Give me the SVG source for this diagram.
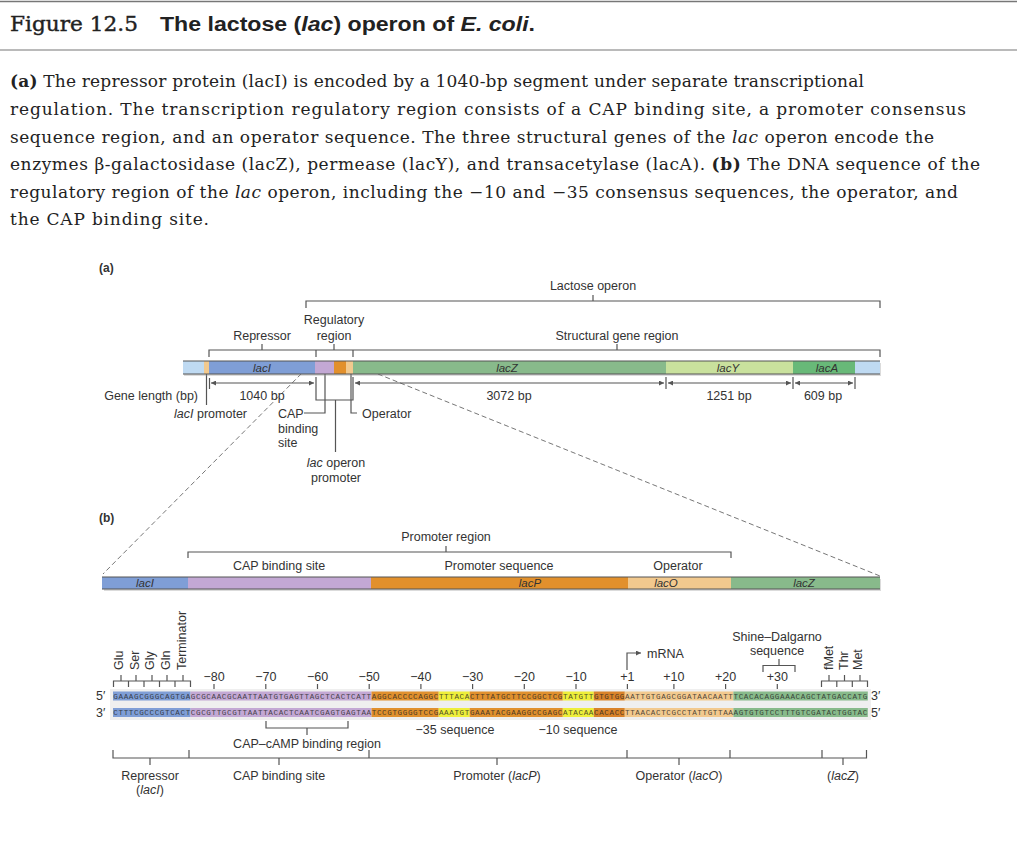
<svg xmlns="http://www.w3.org/2000/svg" width="1024" height="842" viewBox="0 0 1024 842">
<defs>
<style>
.lbl{font-family:"Liberation Sans",Arial,sans-serif;font-size:12.5px;fill:#333}
.gn{font-family:"Liberation Sans",Arial,sans-serif;font-size:11.5px;font-style:italic;fill:#333}
.it{font-style:italic}
.ln{stroke:#555;stroke-width:1.2;fill:none}
.dash{stroke:#777;stroke-width:1;stroke-dasharray:5 3;fill:none}
.seq{font-family:"Liberation Mono",monospace;font-size:7.6px;fill:#222;fill-opacity:.8}
.cap{font-family:"DejaVu Serif",serif;font-size:17px;fill:#222}
.num{font-family:"Liberation Sans",Arial,sans-serif;font-size:12.5px;fill:#333;text-anchor:middle}
.mid{text-anchor:middle}
.end{text-anchor:end}
.barline{stroke:#555;stroke-width:1}
</style>
<marker id="ah" viewBox="0 0 6 6" refX="6" refY="3" markerWidth="5" markerHeight="5" orient="auto-start-reverse" markerUnits="userSpaceOnUse">
<path d="M0,0 L6,3 L0,6 z" fill="#555"/>
</marker>
</defs>
<rect width="1024" height="842" fill="#fff"/>

<g id="header">
<line x1="0" y1="1.5" x2="1017" y2="1.5" stroke="#777" stroke-width="1.5"/>
<line x1="0" y1="50" x2="1017" y2="50" stroke="#777" stroke-width="1.2"/>
<text x="10" y="31" font-family="DejaVu Serif,serif" font-size="21" fill="#222" stroke="#222" stroke-width="0.4" textLength="128" lengthAdjust="spacingAndGlyphs">Figure 12.5</text>
<text x="160" y="31" font-family="Liberation Sans,Arial,sans-serif" font-size="19.5" font-weight="bold" fill="#222" textLength="375" lengthAdjust="spacingAndGlyphs">The lactose (<tspan font-style="italic">lac</tspan>) operon of <tspan font-style="italic">E. coli</tspan>.</text>
</g>

<g id="caption" class="cap">
<text x="10" y="87" textLength="854"><tspan font-weight="bold">(a)</tspan> The repressor protein (lacI) is encoded by a 1040-bp segment under separate transcriptional</text>
<text x="10" y="115" textLength="956">regulation. The transcription regulatory region consists of a CAP binding site, a promoter consensus</text>
<text x="10" y="142.5" textLength="924">sequence region, and an operator sequence. The three structural genes of the <tspan font-style="italic">lac</tspan> operon encode the</text>
<text x="10" y="170" textLength="970">enzymes β-galactosidase (lacZ), permease (lacY), and transacetylase (lacA). <tspan font-weight="bold">(b)</tspan> The DNA sequence of the</text>
<text x="10" y="197.5" textLength="948">regulatory region of the <tspan font-style="italic">lac</tspan> operon, including the −10 and −35 consensus sequences, the operator, and</text>
<text x="10" y="225" textLength="199">the CAP binding site.</text>
</g>

<g id="panel-labels" font-family="Liberation Sans,Arial,sans-serif" font-size="12" font-weight="bold" fill="#333">
<text x="99" y="272">(a)</text>
<text x="99" y="522">(b)</text>
</g>

<g id="connectors">
<line class="dash" x1="307" y1="368" x2="103" y2="574"/>
<line class="dash" x1="363" y1="368" x2="880" y2="576"/>
<path class="ln" d="M306,308 V301 H880 V308 M593,301 V295"/>
<path class="ln" d="M209,357 V350 H880 V357 M316,350 V357 M353,350 V357 M262,350 V344 M334,350 V344 M617,350 V344"/>
<line class="ln" x1="211" y1="383" x2="314" y2="383" marker-start="url(#ah)" marker-end="url(#ah)"/>
<line class="ln" x1="355" y1="383" x2="664" y2="383" marker-start="url(#ah)" marker-end="url(#ah)"/>
<line class="ln" x1="668" y1="383" x2="791" y2="383" marker-start="url(#ah)" marker-end="url(#ah)"/>
<line class="ln" x1="795" y1="383" x2="853" y2="383" marker-start="url(#ah)" marker-end="url(#ah)"/>
<path class="ln" d="M209.5,378 V389 M666,377 V389 M793,377 V389 M855,377 V389"/>
<path class="ln" d="M206.5,374 V405"/>
<path class="ln" d="M325,374 V413 H304"/>
<path class="ln" d="M351,374 V413 H357"/>
<path class="ln" d="M316,377 V400 H353 V377 M335.5,400 V452"/>
<path class="ln" d="M188,558 V552 H731 V558 M446,552 V546"/>
<path class="ln" d="M113.5,687 V681 H128.5 V687 M128.5,681 H144 V687 M144,681 H159.5 V687 M159.5,681 H175 V687 M175,681 H190.5 V687 M121,681 V675 M136,681 V675 M152,681 V675 M167,681 V675 M183,681 V675"/>
<path class="ln" d="M821.5,687 V681 H836.8 V687 M836.8,681 H852.3 V687 M852.3,681 H867.5 V687 M829,681 V675 M844.5,681 V675 M860,681 V675"/>
<path class="ln" d="M763,672 V665.5 H795 V672 M779,665.5 V659"/>
<path class="ln" d="M627,670 V653 H641" marker-end="url(#ah)"/>
<path class="ln" d="M214,684 V690 M265.8,684 V690 M317.5,684 V690 M369.2,684 V690 M420.9,684 V690 M472.6,684 V690 M524.3,684 V690 M576,684 V690 M627.4,684 V690 M673.9,684 V690 M725.6,684 V690 M777.3,684 V690"/>
<path class="ln" d="M266,721 V728 H348 V721 M307,728 V735"/>
<path class="ln" d="M113,750 V758 H866.5 V750 M189,758 V750 M369,758 V750 M627,758 V750 M730,758 V750 M822,758 V750 M150,758 V765 M279,758 V765 M497,758 V765 M679,758 V765 M843,758 V765"/>
</g>

<g id="bar-a">
<rect x="184" y="363" width="697" height="13" fill="#999" opacity=".35"/>
<rect x="183" y="361" width="21" height="13" fill="#bfdaf2"/>
<rect x="204" y="361" width="5" height="13" fill="#f2c98e"/>
<rect x="209" y="361" width="106" height="13" fill="#7f9ed6"/>
<rect x="315" y="361" width="19" height="13" fill="#c3a8d4"/>
<rect x="334" y="361" width="12" height="13" fill="#e2902c"/>
<rect x="346" y="361" width="7" height="13" fill="#f2c98e"/>
<rect x="353" y="361" width="313" height="13" fill="#88ba8b"/>
<rect x="666" y="361" width="127" height="13" fill="#c9e19d"/>
<rect x="793" y="361" width="62" height="13" fill="#68b978"/>
<rect x="855" y="361" width="25" height="13" fill="#bfdaf2"/>
<line class="barline" x1="183" y1="361" x2="880" y2="361"/>
<line class="barline" x1="183" y1="374" x2="880" y2="374"/>
<text class="gn mid" x="262" y="371.5">lacI</text>
<text class="gn mid" x="507" y="371.5">lacZ</text>
<text class="gn mid" x="728" y="371.5">lacY</text>
<text class="gn mid" x="827" y="371.5">lacA</text>
</g>

<g id="labels-a" class="lbl">
<text class="mid" x="593" y="290">Lactose operon</text>
<text class="mid" x="334" y="324">Regulatory</text>
<text class="mid" x="334" y="340">region</text>
<text class="mid" x="262" y="340">Repressor</text>
<text class="mid" x="617" y="340">Structural gene region</text>
<text class="end" x="198" y="400">Gene length (bp)</text>
<text class="mid" x="262" y="400">1040 bp</text>
<text class="mid" x="509" y="400">3072 bp</text>
<text class="mid" x="729" y="400">1251 bp</text>
<text class="mid" x="823" y="400">609 bp</text>
<text class="end" x="247" y="418"><tspan class="it">lacI</tspan> promoter</text>
<text x="278" y="418">CAP</text>
<text x="278" y="432.5">binding</text>
<text x="278" y="447">site</text>
<text x="362" y="418">Operator</text>
<text class="mid" x="336" y="467"><tspan class="it">lac</tspan> operon</text>
<text class="mid" x="336" y="482">promoter</text>
</g>

<g id="bar-b">
<rect x="104" y="579" width="777" height="12" fill="#999" opacity=".35"/>
<rect x="102" y="577" width="86" height="12" fill="#7f9ed6"/>
<rect x="188" y="577" width="183" height="12" fill="#c3a8d4"/>
<rect x="371" y="577" width="257" height="12" fill="#e2902c"/>
<rect x="628" y="577" width="103" height="12" fill="#f2c98e"/>
<rect x="731" y="577" width="149" height="12" fill="#88ba8b"/>
<line class="barline" x1="102" y1="577" x2="880" y2="577"/>
<line class="barline" x1="102" y1="589" x2="880" y2="589"/>
<text class="gn mid" x="145" y="587">lacI</text>
<text class="gn mid" x="530" y="587">lacP</text>
<text class="gn mid" x="666" y="587">lacO</text>
<text class="gn mid" x="804" y="587">lacZ</text>
</g>

<g id="labels-b" class="lbl">
<text class="mid" x="446" y="541">Promoter region</text>
<text class="mid" x="279" y="570">CAP binding site</text>
<text class="mid" x="499" y="570">Promoter sequence</text>
<text class="mid" x="678" y="570">Operator</text>
<text transform="translate(123,670) rotate(-90)">Glu</text>
<text transform="translate(139,670) rotate(-90)">Ser</text>
<text transform="translate(154,670) rotate(-90)">Gly</text>
<text transform="translate(170,670) rotate(-90)">Gln</text>
<text transform="translate(186,670) rotate(-90)">Terminator</text>
<text transform="translate(833,670) rotate(-90)">fMet</text>
<text transform="translate(848,670) rotate(-90)">Thr</text>
<text transform="translate(862,670) rotate(-90)">Met</text>
<text class="mid" x="777" y="641">Shine–Dalgarno</text>
<text class="mid" x="777" y="655">sequence</text>
<text x="647" y="658">mRNA</text>
</g>

<g id="numbers" class="num">
<text x="214" y="681">−80</text>
<text x="265.8" y="681">−70</text>
<text x="317.5" y="681">−60</text>
<text x="369.2" y="681">−50</text>
<text x="420.9" y="681">−40</text>
<text x="472.6" y="681">−30</text>
<text x="524.3" y="681">−20</text>
<text x="576" y="681">−10</text>
<text x="627.4" y="681">+1</text>
<text x="673.9" y="681">+10</text>
<text x="725.6" y="681">+20</text>
<text x="777.3" y="681">+30</text>
</g>

<g id="sequence">
<rect x="110" y="689" width="761" height="31" fill="#efefef"/>
<g id="top-strand">
<rect x="113" y="691.5" width="77.6" height="9" fill="#7f9ed6"/>
<rect x="190.6" y="691.5" width="180.9" height="9" fill="#c3a8d4"/>
<rect x="371.5" y="691.5" width="67.2" height="9" fill="#e0902e"/>
<rect x="438.7" y="691.5" width="31" height="9" fill="#eeee3a"/>
<rect x="469.7" y="691.5" width="93.1" height="9" fill="#e0902e"/>
<rect x="562.8" y="691.5" width="31" height="9" fill="#eeee3a"/>
<rect x="593.8" y="691.5" width="31" height="9" fill="#d9832a"/>
<rect x="624.8" y="691.5" width="108.6" height="9" fill="#f2c98e"/>
<rect x="733.4" y="691.5" width="134.4" height="9" fill="#88ba8b"/>
<text class="seq" x="113.3" y="698.6" textLength="754" lengthAdjust="spacing">GAAAGCGGGCAGTGAGCGCAACGCAATTAATGTGAGTTAGCTCACTCATTAGGCACCCCAGGCTTTACACTTTATGCTTCCGGCTCGTATGTTGTGTGGAATTGTGAGCGGATAACAATTTCACACAGGAAACAGCTATGACCATG</text>
</g>
<g id="bottom-strand">
<rect x="113" y="708" width="77.6" height="9" fill="#7f9ed6"/>
<rect x="190.6" y="708" width="180.9" height="9" fill="#c3a8d4"/>
<rect x="371.5" y="708" width="67.2" height="9" fill="#e0902e"/>
<rect x="438.7" y="708" width="31" height="9" fill="#eeee3a"/>
<rect x="469.7" y="708" width="93.1" height="9" fill="#e0902e"/>
<rect x="562.8" y="708" width="31" height="9" fill="#eeee3a"/>
<rect x="593.8" y="708" width="31" height="9" fill="#d9832a"/>
<rect x="624.8" y="708" width="108.6" height="9" fill="#f2c98e"/>
<rect x="733.4" y="708" width="134.4" height="9" fill="#88ba8b"/>
<text class="seq" x="113.3" y="715.1" textLength="754" lengthAdjust="spacing">CTTTCGCCCGTCACTCGCGTTGCGTTAATTACACTCAATCGAGTGAGTAATCCGTGGGGTCCGAAATGTGAAATACGAAGGCCGAGCATACAACACACCTTAACACTCGCCTATTGTTAAAGTGTGTCCTTTGTCGATACTGGTAC</text>
</g>
<g class="lbl">
<text x="96" y="700">5′</text>
<text x="96" y="716.5">3′</text>
<text x="871" y="700">3′</text>
<text x="871" y="716.5">5′</text>
</g>
</g>

<g id="labels-bottom" class="lbl">
<text class="mid" x="455" y="734">−35 sequence</text>
<text class="mid" x="578" y="734">−10 sequence</text>
<text class="mid" x="307" y="748">CAP–cAMP binding region</text>
<text class="mid" x="150" y="780">Repressor</text>
<text class="mid" x="150" y="794">(<tspan class="it">lacI</tspan>)</text>
<text class="mid" x="279" y="780">CAP binding site</text>
<text class="mid" x="497" y="780">Promoter (<tspan class="it">lacP</tspan>)</text>
<text class="mid" x="679" y="780">Operator (<tspan class="it">lacO</tspan>)</text>
<text class="mid" x="843" y="780">(<tspan class="it">lacZ</tspan>)</text>
</g>
</svg>
